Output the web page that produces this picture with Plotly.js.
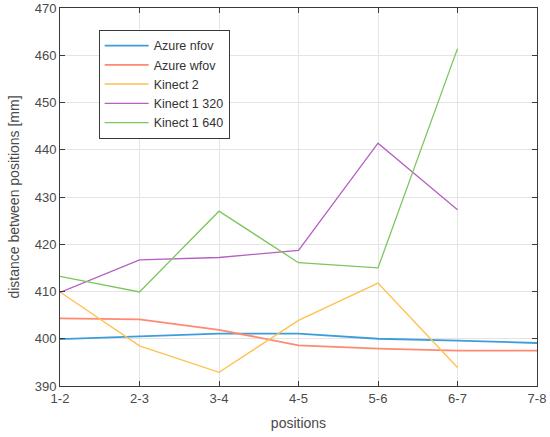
<!DOCTYPE html>
<html>
<head>
<meta charset="utf-8">
<script src="https://cdn.plot.ly/plotly-3.0.1.min.js"></script>
<style>html,body{margin:0;padding:0;background:#fff;}#chart{width:550px;height:437px;}</style>
</head>
<body>
<div id="chart"></div>
<script>
const positions = ["1-2", "2-3", "3-4", "4-5", "5-6", "6-7", "7-8"];
const azureNfov = [399.9, 400.5, 401.1, 401.1, 400.0, 399.6, 399.1];
const azureWfov = [404.3, 404.1, 401.9, 398.6, 397.9, 397.5, 397.5];
const kinect2 = [409.9, 398.5, 392.9, 403.9, 411.8, 393.9, null];
const kinect1_320 = [409.8, 416.7, 417.2, 418.7, 441.4, 427.3, null];
const kinect1_640 = [413.2, 409.9, 427.0, 416.1, 415.0, 461.4, null];
const yTicks = [390, 400, 410, 420, 430, 440, 450, 460, 470];

const mk = (name, y, color, width) => ({
  type: 'scatter', mode: 'lines', name: name, x: positions, y: y,
  line: {color: color, width: width}, connectgaps: false
});

const data = [
  mk('Azure nfov', azureNfov, '#3d9ddb', 1.8),
  mk('Azure wfov', azureWfov, '#ff8a72', 1.8),
  mk('Kinect 2', kinect2, '#ffc150', 1.4),
  mk('Kinect 1 320', kinect1_320, '#b55fc2', 1.3),
  mk('Kinect 1 640', kinect1_640, '#7cc75c', 1.3)
];

const axisCommon = {
  showline: true, linecolor: '#3a3a3a', linewidth: 1, mirror: 'allticks',
  ticks: 'inside', ticklen: 5, tickcolor: '#3a3a3a',
  showgrid: true, gridcolor: '#e4e4e4', gridwidth: 1,
  zeroline: false,
  tickfont: {family: 'Liberation Sans, Arial, sans-serif', size: 13, color: '#4a4a4a'}
};

const layout = {
  width: 550, height: 437,
  margin: {l: 60, r: 13, t: 8, b: 51},
  paper_bgcolor: '#fff', plot_bgcolor: '#fff',
  font: {family: 'Liberation Sans, Arial, sans-serif', color: '#4a4a4a'},
  showlegend: true,
  legend: {
    x: 0.081, y: 0.942, xanchor: 'left', yanchor: 'top',
    bgcolor: '#fff', bordercolor: '#3a3a3a', borderwidth: 1,
    font: {family: 'Liberation Sans, Arial, sans-serif', size: 12.5, color: '#333'},
    tracegroupgap: 0, itemwidth: 44
  },
  xaxis: Object.assign({}, axisCommon, {
    type: 'category', categoryorder: 'array', categoryarray: positions,
    range: [0, 6],
    title: {text: 'positions', font: {size: 14, color: '#4a4a4a'}, standoff: 13}
  }),
  yaxis: Object.assign({}, axisCommon, {
    range: [390, 470], tickvals: yTicks, ticktext: yTicks.map(String),
    title: {text: 'distance between positions [mm]', font: {size: 14, color: '#4a4a4a'}, standoff: 11}
  })
};

Plotly.newPlot('chart', data, layout, {displayModeBar: false, staticPlot: true});
</script>
</body>
</html>
